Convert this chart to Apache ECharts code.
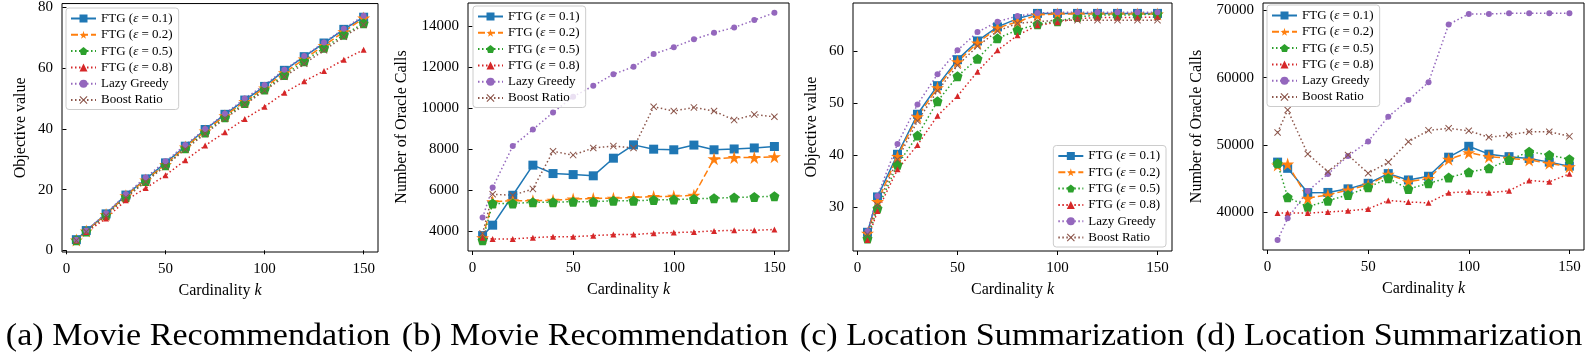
<!DOCTYPE html>
<html>
<head>
<meta charset="utf-8">
<script src="https://cdn.jsdelivr.net/npm/echarts@6/dist/echarts.min.js"></script>
<style>
  html, body { margin: 0; padding: 0; background: #fff; }
  #chart { width: 1585px; height: 355px; }
</style>
</head>
<body>
<div id="chart"></div>
<script>
// x values shared by all four panels
const kValues = [5, 10, 20, 30, 40, 50, 60, 70, 80, 90, 100, 110, 120, 130, 140, 150];

const seriesNames = ['FTG (ε = 0.1)', 'FTG (ε = 0.2)', 'FTG (ε = 0.5)', 'FTG (ε = 0.8)', 'Lazy Greedy', 'Boost Ratio'];

// (a) Movie Recommendation, objective value
const ftg01A = [3.5, 6.5, 12.0, 18.2, 23.5, 28.8, 34.3, 39.8, 44.8, 49.5, 54.0, 59.3, 63.8, 68.3, 72.8, 76.8];
const ftg02A = [3.4, 6.4, 11.8, 18.0, 23.2, 28.3, 34.0, 39.3, 44.3, 49.0, 53.5, 58.5, 63.0, 67.5, 72.0, 76.5];
const ftg05A = [3.3, 6.2, 11.6, 17.6, 22.8, 28.0, 33.6, 38.8, 43.8, 48.5, 53.0, 57.8, 62.3, 66.7, 71.0, 74.8];
const ftg08A = [3.2, 6.0, 10.5, 16.5, 20.5, 24.7, 29.7, 34.5, 38.9, 43.3, 47.3, 51.9, 55.7, 59.1, 62.8, 66.1];
const lazyA = [3.5, 6.5, 12.2, 18.5, 24.0, 29.3, 34.7, 40.0, 45.0, 50.0, 54.5, 59.5, 64.0, 68.5, 73.0, 77.3];
const boostA = [3.2, 6.1, 11.4, 17.4, 22.6, 27.8, 33.3, 38.4, 43.4, 48.0, 52.6, 57.2, 61.5, 65.9, 70.4, 74.3];

// (b) Movie Recommendation, oracle calls
const ftg01B = [3770, 4280, 5740, 7210, 6800, 6750, 6690, 7550, 8200, 7990, 7960, 8190, 7960, 8000, 8050, 8120];
const ftg02B = [3670, 5430, 5470, 5470, 5500, 5560, 5580, 5600, 5630, 5680, 5690, 5740, 7520, 7580, 7580, 7620];
const ftg05B = [3540, 5340, 5340, 5400, 5400, 5430, 5430, 5470, 5470, 5510, 5530, 5560, 5600, 5630, 5660, 5690];
const ftg08B = [3670, 3610, 3610, 3670, 3720, 3720, 3770, 3820, 3820, 3890, 3920, 3950, 4000, 4030, 4030, 4070];
const lazyB = [4650, 6120, 8140, 8950, 9780, 10550, 11085, 11650, 12010, 12630, 12970, 13350, 13670, 13930, 14290, 14650];
const boostB = [3870, 5790, 5740, 6050, 7890, 7700, 8050, 8140, 8050, 10060, 9850, 10030, 9850, 9410, 9680, 9570];

// (c) Location Summarization, objective value
const ftg01C = [25.1, 31.9, 40.1, 47.8, 53.3, 58.3, 61.9, 64.6, 66.2, 67.2, 67.2, 67.2, 67.2, 67.2, 67.2, 67.2];
const ftg02C = [24.9, 31.0, 39.7, 47.3, 52.9, 57.9, 61.5, 64.4, 65.6, 66.9, 67.1, 67.1, 67.1, 67.1, 67.1, 67.1];
const ftg05C = [23.9, 29.7, 38.1, 43.7, 50.3, 55.1, 58.5, 62.4, 64.0, 65.1, 65.7, 66.5, 66.9, 66.9, 66.9, 67.1];
const ftg08C = [23.6, 29.2, 37.2, 41.9, 47.5, 51.3, 56.0, 60.1, 63.0, 64.9, 65.5, 66.2, 66.4, 66.4, 66.4, 66.5];
const lazyC = [25.3, 32.1, 42.1, 49.7, 55.5, 60.1, 63.6, 65.6, 66.7, 67.3, 67.4, 67.4, 67.4, 67.4, 67.4, 67.4];
const boostC = [24.7, 30.3, 39.1, 46.5, 52.3, 57.2, 60.9, 63.8, 65.3, 65.6, 65.9, 65.9, 65.9, 65.9, 65.9, 65.9];

// (d) Location Summarization, oracle calls
const ftg01D = [47450, 46530, 42900, 42950, 43480, 44300, 45740, 44800, 45350, 48180, 49800, 48630, 48260, 47990, 47450, 46850];
const ftg02D = [47020, 47170, 42080, 42580, 43310, 44060, 45640, 44550, 45000, 47870, 48850, 48260, 48010, 47770, 47270, 46770];
const ftg05D = [47270, 42230, 40830, 41720, 42580, 43710, 45050, 43460, 44300, 45150, 45940, 46530, 47770, 49000, 48510, 47870];
const ftg08D = [39900, 39900, 39880, 40050, 40220, 40500, 41750, 41530, 41400, 42900, 43050, 42900, 43190, 44720, 44520, 45710];
const lazyD = [35885, 39108, 43160, 45690, 48360, 50530, 54200, 56680, 59300, 67900, 69450, 69450, 69550, 69550, 69550, 69550];
const boostD = [51840, 55190, 48660, 46030, 48510, 45790, 47420, 50480, 52170, 52470, 52100, 51140, 51480, 51970, 51970, 51280];

// tick labels
const xTicks = [0, 50, 100, 150];
const yTicksA = [0, 20, 40, 60, 80];
const yTicksB = [4000, 6000, 8000, 10000, 12000, 14000];
const yTicksC = [30, 40, 50, 60];
const yTicksD = [40000, 50000, 60000, 70000];

const captions = ['(a) Movie Recommendation', '(b) Movie Recommendation', '(c) Location Summarization', '(d) Location Summarization'];

const FONT = '"Liberation Serif", "DejaVu Serif", serif';

const STAR = 'path://M50,0 L61,35 L98,35 L68,57 L79,91 L50,70 L21,91 L32,57 L2,35 L39,35 Z';
const PENTAGON = 'path://M50,0 L100,38 L81,100 L19,100 L0,38 Z';
const XMARK = 'path://M0,1 L1,0 L5,4 L9,0 L10,1 L6,5 L10,9 L9,10 L5,6 L1,10 L0,9 L4,5 Z';

const styles = [
  { color: '#1f77b4', symbol: 'rect', size: 9, dash: 'solid' },
  { color: '#ff7f0e', symbol: STAR, size: 13, dash: [7, 3] },
  { color: '#2ca02c', symbol: PENTAGON, size: 10, dash: [1.5, 2.5] },
  { color: '#d62728', symbol: 'triangle', size: 6, dash: [1.5, 2.5] },
  { color: '#9467bd', symbol: 'circle', size: 6, dash: [1.5, 2.5] },
  { color: '#8c564b', symbol: XMARK, size: 7, dash: [1.5, 2.5] }
];

const panels = [
  {
    grid: { left: 62, top: 3, width: 316, height: 249 },
    yMin: -0.56, yMax: 81.3, yTicks: yTicksA, yName: 'Objective value', yGap: 33,
    legend: { left: 66, top: 8 },
    values: [ftg01A, ftg02A, ftg05A, ftg08A, lazyA, boostA]
  },
  {
    grid: { left: 468, top: 3, width: 321, height: 248 },
    yMin: 3020, yMax: 15125, yTicks: yTicksB, yName: 'Number of Oracle Calls', yGap: 58,
    legend: { left: 473, top: 6 },
    values: [ftg01B, ftg02B, ftg05B, ftg08B, lazyB, boostB]
  },
  {
    grid: { left: 853, top: 3, width: 319, height: 248 },
    yMin: 21.5, yMax: 69.2, yTicks: yTicksC, yName: 'Objective value', yGap: 33,
    legend: { right: 419, bottom: 108 },
    values: [ftg01C, ftg02C, ftg05C, ftg08C, lazyC, boostC]
  },
  {
    grid: { left: 1263, top: 3, width: 321, height: 247 },
    yMin: 34400, yMax: 71080, yTicks: yTicksD, yName: 'Number of Oracle Calls', yGap: 58,
    legend: { left: 1267, top: 5 },
    values: [ftg01D, ftg02D, ftg05D, ftg08D, lazyD, boostD]
  }
];

const tickStyle = { show: true, inside: false, length: 4, lineStyle: { color: '#000', width: 1 } };

const option = {
  animation: false,
  backgroundColor: '#fff',
  grid: panels.map((p) => Object.assign({ show: true, borderColor: '#000', borderWidth: 1, backgroundColor: 'transparent' }, p.grid)),
  xAxis: panels.map((p, i) => ({
    type: 'value',
    gridIndex: i,
    min: -2.25,
    max: 157.25,
    name: 'Cardinality {i|k}',
    nameLocation: 'middle',
    nameGap: 31,
    nameTextStyle: {
      fontFamily: FONT, fontSize: 16, color: '#000',
      rich: { i: { fontFamily: FONT, fontSize: 16, fontStyle: 'italic', color: '#000' } }
    },
    axisLine: { show: false },
    axisTick: Object.assign({ customValues: xTicks }, tickStyle),
    axisLabel: { customValues: xTicks, fontFamily: FONT, fontSize: 15, color: '#000', margin: 10, formatter: (v) => String(v) },
    splitLine: { show: false }
  })),
  yAxis: panels.map((p, i) => ({
    type: 'value',
    gridIndex: i,
    min: p.yMin,
    max: p.yMax,
    name: p.yName,
    nameLocation: 'middle',
    nameGap: p.yGap,
    nameTextStyle: { fontFamily: FONT, fontSize: 16, color: '#000' },
    axisLine: { show: false },
    axisTick: Object.assign({ customValues: p.yTicks }, tickStyle),
    axisLabel: { customValues: p.yTicks, fontFamily: FONT, fontSize: 15, color: '#000', margin: 9, formatter: (v) => String(v) },
    splitLine: { show: false }
  })),
  legend: panels.map((p) => Object.assign({
    orient: 'vertical',
    data: seriesNames,
    itemWidth: 25,
    itemHeight: 10,
    itemGap: 1.3,
    padding: [3, 6, 2, 4],
    borderColor: '#cccccc',
    borderWidth: 1,
    borderRadius: 3,
    backgroundColor: 'rgba(255,255,255,0.8)',
    selectedMode: false,
    formatter: (name) => name.replace('ε', '{i|ε}'),
    textStyle: {
      fontFamily: FONT, fontSize: 13, color: '#000', lineHeight: 15,
      rich: { i: { fontFamily: FONT, fontSize: 13, fontStyle: 'italic', color: '#000', lineHeight: 15 } }
    }
  }, p.legend)),
  series: [],
  graphic: captions.map((t, i) => ({
    type: 'text',
    x: [198, 595, 992, 1389][i],
    y: 337,
    scaleX: 1.1,
    style: {
      text: t,
      font: '31px "Liberation Serif", serif',
      fill: '#000',
      textAlign: 'center',
      textVerticalAlign: 'middle'
    }
  }))
};

panels.forEach((p, gi) => {
  p.values.forEach((vals, si) => {
    const s = styles[si];
    option.series.push({
      name: seriesNames[si],
      type: 'line',
      xAxisIndex: gi,
      yAxisIndex: gi,
      data: kValues.map((k, j) => [k, vals[j]]),
      symbol: s.symbol,
      symbolSize: s.size,
      showSymbol: true,
      showAllSymbol: true,
      color: s.color,
      itemStyle: { color: s.color },
      lineStyle: { color: s.color, width: 1.5, type: s.dash },
      emphasis: { disabled: true }
    });
  });
});

const chart = echarts.init(document.getElementById('chart'), null, { renderer: 'canvas' });
chart.setOption(option);
</script>
</body>
</html>
